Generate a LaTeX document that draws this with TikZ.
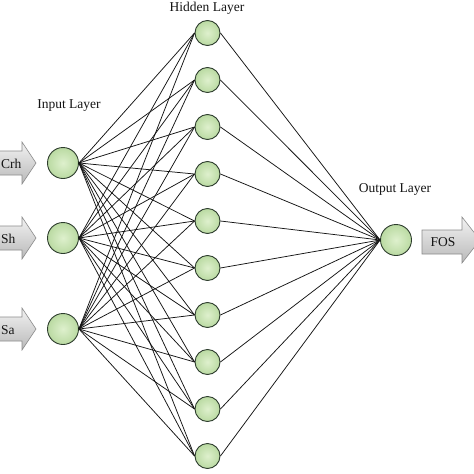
\documentclass[tikz,border=0pt]{standalone}
\usepackage{fontspec}
\setmainfont{Liberation Serif}
\begin{document}
\begin{tikzpicture}[x=1pt,y=-1pt,
  neuron/.style={circle,draw={rgb,255:red,45;green,60;blue,45},line width=0.9pt,
    inner color={rgb,255:red,222;green,240;blue,205},outer color={rgb,255:red,186;green,218;blue,162},inner sep=0pt},
  inneuron/.style={neuron,minimum size=31pt},
  hidneuron/.style={neuron,minimum size=25pt},
  conn/.style={line width=0.75pt,draw={rgb,255:red,20;green,20;blue,20}},
  lbl/.style={font=\fontsize{13.5}{16}\selectfont,text={rgb,255:red,20;green,20;blue,20}},
  arrowshape/.style={draw={rgb,255:red,140;green,140;blue,140},line width=0.6pt,top color=gray!10,bottom color=gray!55,shading angle=0}
]
\useasboundingbox (0,0) rectangle (474,474);
\clip (0,0) rectangle (474,474);
\fill[white] (0,0) rectangle (474,474);

% input arrows
\foreach \c/\t/\n in {163/Crh/a1,238/Sh/a2,329/Sa/a3}{
  \shade[arrowshape] (-6,\c-12) -- (22,\c-12) -- (22,\c-21) -- (36,\c) -- (22,\c+21) -- (22,\c+12) -- (-6,\c+12) -- cycle;
  \node[lbl,anchor=west,inner sep=0pt] (\n) at (1,\c+1) {\t};
}
% output arrow
\shade[arrowshape] (422,230) -- (462,230) -- (462,217) -- (480,240) -- (462,263) -- (462,254) -- (422,254) -- cycle;
\node[lbl] (fos) at (443,242) {FOS};

% labels
\node[lbl] (hl) at (207,8) {Hidden Layer};
\node[lbl] (il) at (69,106) {Input Layer};
\node[lbl] (ol) at (395,189) {Output Layer};

% nodes
\node[inneuron] (i1) at (63,163) {};
\node[inneuron] (i2) at (63,238) {};
\node[inneuron] (i3) at (63,329) {};
\foreach \k in {1,...,10}{
  \node[hidneuron] (h\k) at (207.5,{33+47*(\k-1)}) {};
}
\node[inneuron] (o) at (396,240) {};

% connections
\foreach \i in {1,2,3}{
  \foreach \k in {1,...,10}{
    \draw[conn] (i\i.east) -- (h\k.west);
  }
}
\foreach \k in {1,...,10}{
  \draw[conn] (h\k.east) -- (o.west);
}
\end{tikzpicture}
\end{document}
